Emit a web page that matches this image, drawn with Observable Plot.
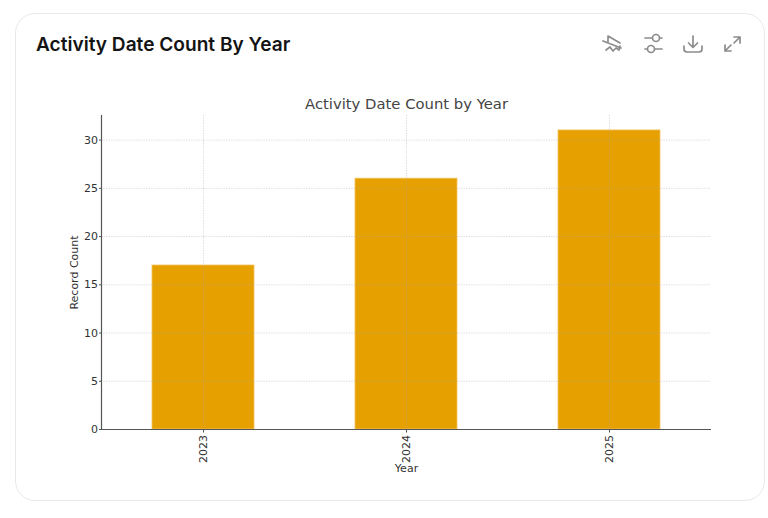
<!DOCTYPE html>
<html>
<head>
<meta charset="utf-8">
<script src="https://cdn.jsdelivr.net/npm/d3@7"></script>
<script src="https://cdn.jsdelivr.net/npm/@observablehq/plot@0.6"></script>
<style>
html,body{margin:0;padding:0;background:#fff;width:768px;height:518px;overflow:hidden}
#card{position:absolute;left:15px;top:13px;width:748px;height:486px;border:1px solid #e9e9e9;border-radius:20px;box-sizing:content-box}
#heading{position:absolute;left:36px;top:32px;margin:0;font:600 19.1px/24px Inter,"Noto Sans",sans-serif;color:#141414;white-space:nowrap}
#chart{position:absolute;left:0;top:0}
#icons{position:absolute;left:0;top:0}
</style>
</head>
<body>
<div id="card"></div>
<div id="chart"></div>
<h1 id="heading">Activity Date Count By Year</h1>
<svg id="icons" width="768" height="70" fill="none" stroke="#8c8c8c" stroke-width="1.7" stroke-linecap="round" stroke-linejoin="round">
  <path d="M608 43 V36 L620 43 M603 41 L621 48 M606 50 L610 47 L613 51 L616 48 L619 50 L620 46"/>
  <path d="M645 38 H652 M660 38 H662 M645 49 H647 M655 49 H662"/><circle cx="656" cy="38" r="3.5"/><circle cx="651" cy="49" r="3.5"/>
  <path d="M693 36 V47 M688.5 43 L693 47.5 L697.5 43 M684 46 V49 Q684 52 687 52 H699 Q702 52 702 49 V46"/>
  <path d="M734 43 L740 37 M734 37 H740 V43 M731 45 L725 51 M725 45 V51 H731"/>
</svg>
<script>
const years = ["2023", "2024", "2025"];
const counts = [17, 26, 31];
const yTicks = [0, 5, 10, 15, 20, 25, 30];
const chartTitle = "Activity Date Count by Year";
const rows = years.map((year, i) => ({year, count: counts[i]}));

const fontFamily = '"DejaVu Sans", sans-serif';
const gridStyle = {stroke: "#a8a8a8", strokeOpacity: 0.45, strokeWidth: 0.8, strokeDasharray: "1.5 1"};

const plot = Plot.plot({
  width: 768,
  height: 518,
  marginLeft: 101,
  marginRight: 57,
  marginTop: 115,
  marginBottom: 89,
  style: {background: "transparent", fontFamily, fontSize: "11px", color: "#333"},
  x: {type: "band", domain: years, paddingInner: 0.5, paddingOuter: 0.25},
  y: {domain: [0, 32.55]},
  marks: [
    Plot.barY(rows, {x: "year", y: "count", fill: "#E6A000", stroke: "#F2C25C", strokeWidth: 0.8}),
    Plot.gridX(years, {x: d => d, ...gridStyle}),
    Plot.gridY(yTicks, {y: d => d, ...gridStyle}),
    Plot.frame({anchor: "left", stroke: "#555", strokeWidth: 1.2}),
    Plot.ruleY([0], {stroke: "#555", strokeWidth: 1.2}),
    Plot.axisY({
      ticks: yTicks, tickSize: 2, tickPadding: 1.5,
      label: "Record Count", labelAnchor: "center", labelArrow: "none", labelOffset: 31,
      fill: "#333", stroke: "#555"
    }),
    Plot.axisX({
      tickSize: 3.5, tickPadding: 2, tickRotate: -90,
      label: "Year", labelAnchor: "center", labelArrow: "none", labelOffset: 42,
      fill: "#333", stroke: "#555"
    }),
    Plot.text([chartTitle], {
      frameAnchor: "top", dy: -11, text: d => d,
      fontSize: 14.8, fill: "#444", lineAnchor: "middle"
    })
  ]
});
document.getElementById("chart").appendChild(plot);
</script>
</body>
</html>
